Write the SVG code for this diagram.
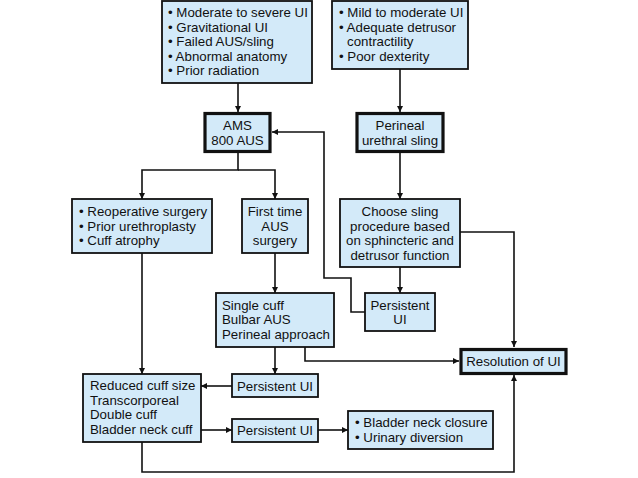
<svg xmlns="http://www.w3.org/2000/svg" width="638" height="478" viewBox="0 0 638 478">
<defs>
<style>
.b{fill:#d3eaf9;stroke:#111;stroke-width:1.8}
.k{fill:#d3eaf9;stroke:#111;stroke-width:3.2}
text{font-family:"Liberation Sans",Arial,sans-serif;font-size:13.3px;fill:#111}
.c{text-anchor:middle}
.e{fill:none;stroke:#111;stroke-width:1.6}
</style>
<marker id="a" viewBox="0 0 10 10" refX="10" refY="5" markerWidth="7" markerHeight="6" markerUnits="userSpaceOnUse" orient="auto">
<path d="M0,0 L10,5 L0,10 z" fill="#111"/>
</marker>
</defs>
<rect width="638" height="478" fill="#fff"/>
<g id="connectors">
<path class="e" marker-end="url(#a)" d="M238,83 V112"/>
<path class="e" marker-end="url(#a)" d="M400,69 V112"/>
<path class="e" marker-end="url(#a)" d="M238,153 V170 H142 V199"/>
<path class="e" marker-end="url(#a)" d="M238,170 H275 V199"/>
<path class="e" marker-end="url(#a)" d="M400,153 V199"/>
<path class="e" marker-end="url(#a)" d="M460,232 H514 V347"/>
<path class="e" marker-end="url(#a)" d="M400,267 V293"/>
<path class="e" marker-end="url(#a)" d="M365,312 H351 V278 H324 V132 H272"/>
<path class="e" marker-end="url(#a)" d="M275,253 V293"/>
<path class="e" marker-end="url(#a)" d="M305,347 V361 H459"/>
<path class="e" marker-end="url(#a)" d="M275,347 V374"/>
<path class="e" marker-end="url(#a)" d="M232,386 H201"/>
<path class="e" marker-end="url(#a)" d="M142,253 V374"/>
<path class="e" marker-end="url(#a)" d="M201,430 H232"/>
<path class="e" marker-end="url(#a)" d="M318,430 H348"/>
<path class="e" marker-end="url(#a)" d="M142,442 V472 H514 V375"/>
</g>
<g id="n1">
<rect class="b" x="162" y="1" width="150" height="82"/>
<text x="168" y="17">• Moderate to severe UI</text>
<text x="168" y="31.5">• Gravitational UI</text>
<text x="168" y="46">• Failed AUS/sling</text>
<text x="168" y="60.5">• Abnormal anatomy</text>
<text x="168" y="75">• Prior radiation</text>
</g>
<g id="n2">
<rect class="b" x="332" y="1" width="136" height="68"/>
<text x="339" y="17">• Mild to moderate UI</text>
<text x="339" y="31.5">• Adequate detrusor</text>
<text x="347" y="46">contractility</text>
<text x="339" y="60.5">• Poor dexterity</text>
</g>
<g id="n3">
<rect class="k" x="205" y="113.5" width="65" height="38"/>
<text class="c" x="237.5" y="130">AMS</text>
<text class="c" x="237.5" y="144.5">800 AUS</text>
</g>
<g id="n4">
<rect class="k" x="357" y="113.5" width="86" height="38"/>
<text class="c" x="400" y="130">Perineal</text>
<text class="c" x="400" y="144.5">urethral sling</text>
</g>
<g id="n5">
<rect class="b" x="72" y="199" width="140" height="54"/>
<text x="79" y="216">• Reoperative surgery</text>
<text x="79" y="230.5">• Prior urethroplasty</text>
<text x="79" y="245">• Cuff atrophy</text>
</g>
<g id="n6">
<rect class="b" x="242" y="199" width="66" height="54"/>
<text class="c" x="275" y="216">First time</text>
<text class="c" x="275" y="230.5">AUS</text>
<text class="c" x="275" y="245">surgery</text>
</g>
<g id="n7">
<rect class="b" x="340" y="199" width="120" height="68"/>
<text class="c" x="400" y="216">Choose sling</text>
<text class="c" x="400" y="230.5">procedure based</text>
<text class="c" x="400" y="245">on sphincteric and</text>
<text class="c" x="400" y="259.5">detrusor function</text>
</g>
<g id="n8">
<rect class="b" x="365" y="293" width="70" height="38"/>
<text class="c" x="400" y="309.5">Persistent</text>
<text class="c" x="400" y="324">UI</text>
</g>
<g id="n9">
<rect class="b" x="216" y="293" width="118" height="54"/>
<text x="222" y="309.5">Single cuff</text>
<text x="222" y="324">Bulbar AUS</text>
<text x="222" y="338.5">Perineal approach</text>
</g>
<g id="n10">
<rect class="k" x="461" y="349.5" width="105" height="24"/>
<text class="c" x="513.5" y="366">Resolution of UI</text>
</g>
<g id="n11">
<rect class="b" x="232" y="374" width="86" height="23"/>
<text class="c" x="275" y="390.5">Persistent UI</text>
</g>
<g id="n12">
<rect class="b" x="83" y="374" width="118" height="68"/>
<text x="90" y="390">Reduced cuff size</text>
<text x="90" y="404.5">Transcorporeal</text>
<text x="90" y="419">Double cuff</text>
<text x="90" y="433.5">Bladder neck cuff</text>
</g>
<g id="n13">
<rect class="b" x="232" y="419" width="86" height="23"/>
<text class="c" x="275" y="435">Persistent UI</text>
</g>
<g id="n14">
<rect class="b" x="348" y="411" width="145" height="38"/>
<text x="355" y="427">• Bladder neck closure</text>
<text x="355" y="441.5">• Urinary diversion</text>
</g>
</svg>
